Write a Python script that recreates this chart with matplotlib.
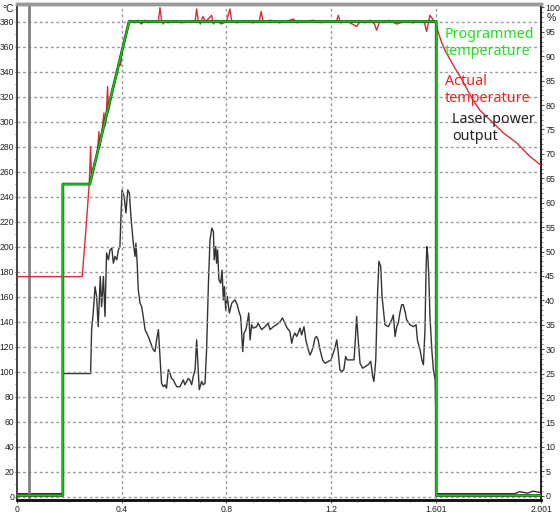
import numpy as np
import matplotlib.pyplot as plt
from matplotlib.ticker import MultipleLocator, FixedLocator

# programmed temperature (degC)
prog_t = [0, 0.175, 0.175, 0.278, 0.428, 1.601, 1.601, 2.001]
prog_v = [1, 1, 250, 250, 380, 380, 1, 1]

# actual temperature (degC)
act_t = [0, 0.249, 0.263, 0.276, 0.281, 0.284, 0.29, 0.300, 0.306, 0.313, 0.316, 0.322, 0.332, 0.335,
         0.340, 0.346, 0.349, 0.36, 0.375, 0.388, 0.396, 0.40, 0.41, 0.42, 0.428,
         0.44, 0.45, 0.46, 0.475, 0.49, 0.50, 0.52, 0.54, 0.546, 0.552, 0.558, 0.565, 0.575,
         0.60, 0.63, 0.66, 0.68, 0.686, 0.692, 0.70, 0.71, 0.72, 0.735, 0.743, 0.75, 0.76, 0.78,
         0.80, 0.813, 0.82, 0.84, 0.87, 0.90, 0.925, 0.932, 0.94, 0.97, 1.0, 1.03, 1.055, 1.07,
         1.10, 1.13, 1.16, 1.19, 1.22, 1.227, 1.235, 1.26, 1.28, 1.297, 1.31, 1.33, 1.35, 1.365,
         1.373, 1.385, 1.40, 1.42, 1.45, 1.48, 1.51, 1.54, 1.556, 1.564, 1.57, 1.577, 1.59, 1.597,
         1.609, 1.622, 1.634, 1.666, 1.692, 1.742, 1.768, 1.793, 1.857, 1.908, 1.959, 2.001]
act_v = [176, 176, 213, 251, 280, 258, 262, 268, 273, 292, 280, 288, 307, 296,
         302, 328, 308, 320, 333, 345, 345, 355, 364, 373, 380,
         380, 379, 381, 378, 381, 379, 380, 380, 391, 381, 378, 380, 379,
         380, 379, 380, 380, 390, 381, 378, 384, 380, 383, 385, 378, 381, 378,
         380, 390, 380, 379, 380, 379, 380, 388, 380, 381, 379, 380, 382, 379,
         380, 381, 379, 380, 380, 385, 379, 380, 378, 376, 380, 379, 381, 378,
         373, 380, 379, 381, 378, 380, 379, 380, 379, 372, 378, 385, 381, 380,
         371, 363, 357, 345, 336, 317, 309, 304, 291, 283, 272, 265]

# laser power output (%)
pow_t = [0, 0.175, 0.175, 0.281, 0.285, 0.291, 0.298, 0.304, 0.31, 0.318, 0.323, 0.33, 0.336,
         0.342, 0.349, 0.355, 0.362, 0.368, 0.374, 0.381, 0.387, 0.393, 0.397, 0.401, 0.409,
         0.416, 0.423, 0.429, 0.435, 0.444, 0.451, 0.454, 0.459, 0.463, 0.47, 0.476, 0.482,
         0.489, 0.501, 0.52, 0.527, 0.533, 0.54, 0.546, 0.552, 0.559, 0.565, 0.571, 0.578,
         0.584, 0.59, 0.597, 0.603, 0.61, 0.622, 0.635, 0.641, 0.654, 0.66, 0.667, 0.673,
         0.68, 0.686, 0.696, 0.705, 0.711, 0.718, 0.724, 0.731, 0.737, 0.744, 0.75, 0.753,
         0.759, 0.762, 0.766, 0.771, 0.778, 0.783, 0.788, 0.792, 0.797, 0.803, 0.811, 0.82,
         0.832, 0.841, 0.849, 0.854, 0.858, 0.862, 0.867, 0.874, 0.879, 0.885, 0.89, 0.896,
         0.902, 0.915, 0.921, 0.934, 0.947, 0.959, 0.966, 0.979, 0.991, 1.004, 1.014, 1.023,
         1.032, 1.042, 1.049, 1.055, 1.061, 1.068, 1.074, 1.081, 1.087, 1.096, 1.103, 1.112,
         1.119, 1.125, 1.131, 1.138, 1.144, 1.15, 1.157, 1.167, 1.176, 1.189, 1.199, 1.208,
         1.215, 1.221, 1.227, 1.233, 1.24, 1.248, 1.255, 1.261, 1.271, 1.287, 1.292, 1.297,
         1.303, 1.31, 1.32, 1.329, 1.341, 1.351, 1.358, 1.363, 1.37, 1.376, 1.382, 1.389,
         1.394, 1.405, 1.418, 1.431, 1.437, 1.444, 1.45, 1.456, 1.462, 1.469, 1.475, 1.482,
         1.488, 1.501, 1.514, 1.524, 1.529, 1.539, 1.546, 1.552, 1.558, 1.562, 1.565, 1.569,
         1.573, 1.577, 1.584, 1.59, 1.597, 1.601, 1.601, 1.9, 1.92, 1.95, 1.97, 2.001]
pow_v = [0.4, 0.4, 25, 25, 34, 37.4, 42.8, 40.8, 34.6, 44.9, 38.7, 44.9, 36.7,
         49.7, 48.3, 50.3, 50.7, 47.6, 49, 48.3, 50.3, 51, 57.2, 62.6, 61.3,
         57.9, 62.6, 62, 57.2, 51.7, 49, 51.7, 47.6, 42.2, 39.4, 38.7, 36.7,
         34, 32.6, 29.9, 29.5, 31.9, 34, 28.5, 23, 22.3, 22.7, 22, 25.8,
         25.1, 24, 23.7, 23, 22.3, 22.3, 23.7, 22.7, 24, 23.7, 22.7, 24.4,
         25.8, 31.9, 21.7, 23.4, 22.7, 23, 29.9, 43.5, 52.4, 54.8, 54.1, 48.3,
         51, 47.6, 50.3, 44.2, 43.5, 46.2, 40.1, 42.8, 38, 40.8, 37.4, 39.4,
         40.1, 39.1, 37.4, 36.7, 33.3, 29.5, 33.3, 34, 35.3, 37.4, 31.9, 35,
         34.3, 34.6, 35.3, 34, 34.6, 35.3, 34, 34.6, 35, 35.6, 36.4, 35.3,
         34.3, 33.6, 31.2, 32.6, 33.3, 32.6, 33.3, 34.3, 32.9, 34.6, 31.9, 29.9,
         28.8, 29.5, 30.5, 32.3, 32.6, 31.9, 29.9, 27.8, 27.1, 27.5, 27.8, 29.2,
         30.5, 31.9, 29.2, 25.8, 25.4, 25.8, 28.5, 27.8, 27.8, 27.8, 31.9, 36.7,
         31.9, 27.1, 26.1, 26.4, 26.8, 27.5, 24.4, 23.4, 27.8, 40.1, 48, 46.9,
         40.8, 35, 34.6, 36, 37, 32.6, 34.6, 35.3, 37.4, 39.1, 39.1, 37.7,
         36, 35, 34.6, 35, 31.9, 29.9, 27.8, 26.8, 34, 46.3, 51, 49,
         44.2, 36.7, 29.9, 25.8, 23.7, 11.4, 0.4, 0.4, 0.8, 0.5, 0.9, 0.6]

xticks = [0, 0.4, 0.8, 1.2, 1.601, 2.001]
xticklabels = ['0', '0.4', '0.8', '1.2', '1.601', '2.001']

fig = plt.figure(figsize=(5.6, 5.16), dpi=100)
ax = fig.add_axes([17/560, 16/516, 524/560, 496/516])
ax2 = ax.twinx()

ax.set_xlim(0, 2.001)
ax.set_ylim(-2.6, 394)
ax2.set_ylim(-0.9, 100.7)

# grid
for v in range(0, 381, 20):
    ax.axhline(v, color='#999999', lw=1, ls=(0, (2, 2)), zorder=0)
for v in [0.4, 0.8, 1.2, 1.601]:
    ax.axvline(v, color='#999999', lw=1, ls=(0, (2, 2)), zorder=0)
ax.axvline(0.046, color='#808080', lw=2, zorder=1)

ax2.plot(pow_t, pow_v, color='#333333', lw=1, zorder=3)
ax.plot(act_t, act_v, color='#dd2a3a', lw=1, zorder=4)
ax.plot(prog_t, prog_v, color='#154a15', lw=2.0, zorder=5)
ax.plot(prog_t, prog_v, color='#18c418', lw=1.2, zorder=6)
ax.set_zorder(ax2.get_zorder() + 1)
ax.patch.set_visible(False)

ax.xaxis.set_major_locator(FixedLocator(xticks))
ax.set_xticklabels(xticklabels)
ax.xaxis.set_minor_locator(MultipleLocator(0.1))
ax.yaxis.set_major_locator(MultipleLocator(20))
ax.yaxis.set_minor_locator(MultipleLocator(10))
ax2.yaxis.set_major_locator(MultipleLocator(5))
ax2.yaxis.set_minor_locator(MultipleLocator(1))

tick_font = ['Liberation Sans', 'DejaVu Sans']
ax.tick_params(axis='both', which='major', labelsize=6.2, labelcolor='#222222', length=1.5, width=0.8, pad=0.5, color='#555555')
ax.tick_params(axis='both', which='minor', length=1.2, width=0.6, color='#555555')
ax.tick_params(axis='x', which='major', length=2, pad=1.5)
ax2.tick_params(axis='y', which='major', labelsize=6.4, labelcolor='#222222', length=2.5, width=0.8, pad=0.5, color='#555555')
ax2.tick_params(axis='y', which='minor', length=1.5, width=0.5, color='#555555')
for lab in ax.get_xticklabels() + ax.get_yticklabels() + ax2.get_yticklabels():
    lab.set_family(tick_font)

for a in (ax, ax2):
    a.spines['top'].set_color('#999999')
    a.spines['top'].set_linewidth(2.5)
    a.spines['bottom'].set_color('#111111')
    a.spines['bottom'].set_linewidth(1.8)
    a.spines['left'].set_color('#444444')
    a.spines['left'].set_linewidth(1.3)
    a.spines['right'].set_color('#222222')
    a.spines['right'].set_linewidth(1.3)

fig.text(8/560, 1 - 9/516, '°C', fontsize=7.5, color='#222222', ha='center', va='center', family=tick_font)
fig.text(551/560, 1 - 18/516, '%', fontsize=7.5, color='#222222', ha='center', va='center', family=tick_font)

fam = ['Noto Sans', 'DejaVu Sans']
fig.text(445/560, 1 - 43/516, 'Programmed\ntemperature', fontsize=10.3, color='#22dd22',
         ha='left', va='center', family=fam, linespacing=1.15)
fig.text(445/560, 1 - 90/516, 'Actual\ntemperature', fontsize=10.3, color='#ee2222',
         ha='left', va='center', family=fam, linespacing=1.15)
fig.text(452/560, 1 - 128/516, 'Laser power\noutput', fontsize=10.3, color='#222222',
         ha='left', va='center', family=fam, linespacing=1.15)

fig.savefig('out.png', dpi=100)
